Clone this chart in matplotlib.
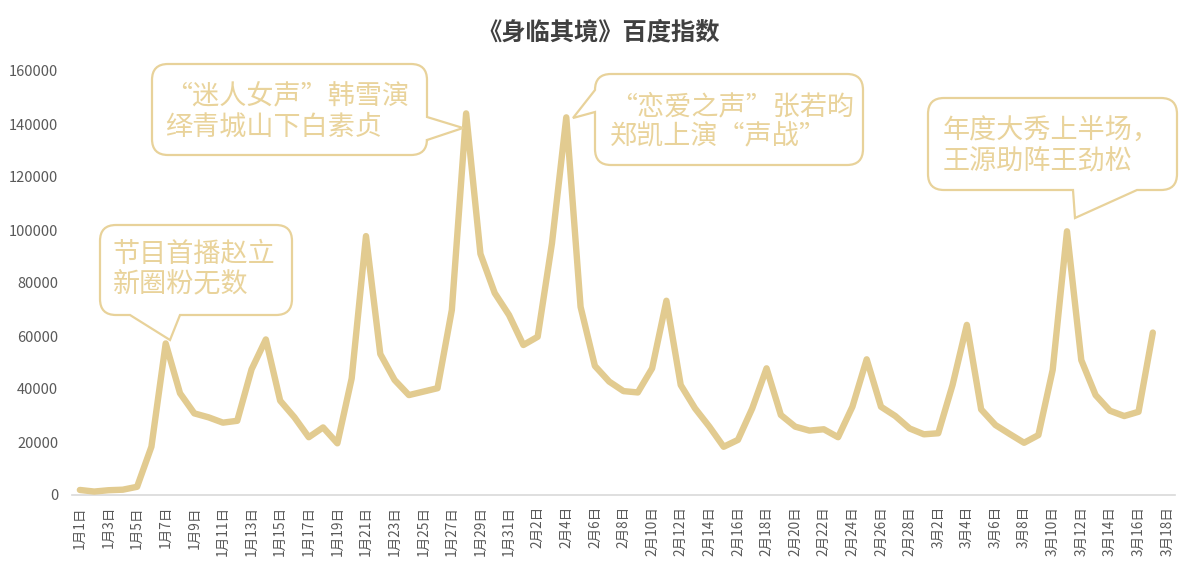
import matplotlib
matplotlib.use("Agg")
import matplotlib.pyplot as plt
from matplotlib.path import Path
from matplotlib.patches import PathPatch
import pandas as pd

plt.rcParams['font.family'] = ['Noto Sans CJK SC', 'DejaVu Sans']

title = "《身临其境》百度指数"
dates = pd.date_range("2019-01-01", "2019-03-18")
categories = [f"{d.month}月{d.day}日" for d in dates]

values = [
    # Jan
    1900, 1300, 1800, 2000, 3100, 18200, 57200, 38400, 30800, 29300,
    27300, 28000, 47400, 58700, 35600, 29300, 21800, 25500, 19500, 44000,
    97700, 53200, 43400, 37700, 39000, 40300, 69800, 144000, 91000, 76200, 67900,
    # Feb
    56600, 59700, 95000, 142500, 71000, 48700, 42800, 39200, 38700, 47800,
    73300, 41500, 32700, 25800, 18200, 20800, 32700, 47800, 30200, 25800,
    24300, 24800, 21800, 33300, 51200, 33300, 29800, 25100,
    # Mar
    22900, 23300, 41500, 64200, 32300, 26400, 23000, 19700, 22600, 47200,
    99500, 50900, 37700, 31800, 29800, 31400, 61300,
]

yticks = [0, 20000, 40000, 60000, 80000, 100000, 120000, 140000, 160000]

callout_texts = [
    "节目首播赵立\n新圈粉无数",
    "“迷人女声”韩雪演\n绎青城山下白素贞",
    "“恋爱之声”张若昀\n郑凯上演“声战”",
    "年度大秀上半场，\n王源助阵王劲松",
]

W, H = 1190, 569
LINE = "#E2CB90"
BOX = "#E8D29A"
TXT = "#E9D39B"

fig = plt.figure(figsize=(W / 100, H / 100), dpi=100)
ax = fig.add_axes([72 / W, 1 - 495 / H, (1175 - 72) / W, (495 - 71) / H])

x = list(range(len(values)))
ax.plot(x, values, color=LINE, lw=4.6, solid_joinstyle="round", solid_capstyle="round", zorder=3)

ax.set_xlim(-0.55, len(categories) - 0.45)
ax.set_ylim(0, 160000)
ax.set_yticks(yticks)
ax.set_yticklabels([str(v) for v in yticks], fontsize=10.5, color="#595959")
tick_idx = list(range(0, len(categories), 2))
ax.set_xticks(tick_idx)
ax.set_xticklabels([categories[i] for i in tick_idx], rotation=90, fontsize=9.8, color="#595959")
ax.tick_params(axis="both", length=0)
ax.tick_params(axis="x", pad=8)
ax.tick_params(axis="y", pad=10)
for s in ["top", "right", "left"]:
    ax.spines[s].set_visible(False)
ax.spines["bottom"].set_color("#D9D9D9")
ax.spines["bottom"].set_linewidth(1.2)

fig.text(599 / W, 1 - 33 / H, title, ha="center", va="center", fontsize=17.5,
         fontweight="bold", color="#404040")


def to_fig(px, py):
    return (px / W, 1 - py / H)


def callout(x0, y0, x1, y1, r, side, ptr):
    M, L, C = Path.MOVETO, Path.LINETO, Path.CURVE3
    verts, codes = [], []

    def add(p, c):
        verts.append(to_fig(*p))
        codes.append(c)

    add((x0 + r, y0), M)
    add((x1 - r, y0), L)
    add((x1, y0), C); add((x1, y0 + r), C)
    if side == "right":
        for p in ptr:
            add(p, L)
    add((x1, y1 - r), L)
    add((x1, y1), C); add((x1 - r, y1), C)
    if side == "bottom":
        for p in ptr:
            add(p, L)
    add((x0 + r, y1), L)
    add((x0, y1), C); add((x0, y1 - r), C)
    if side == "left":
        for p in ptr:
            add(p, L)
    add((x0, y0 + r), L)
    add((x0, y0), C); add((x0 + r, y0), C)
    patch = PathPatch(Path(verts, codes), transform=fig.transFigure, facecolor="white",
                      edgecolor=BOX, lw=1.6, zorder=5)
    fig.add_artist(patch)


callout(100, 225, 292, 315, 16, "bottom", [(180, 315), (170, 340), (130, 315)])
callout(152, 64, 427, 155, 16, "right", [(427, 117), (463, 128), (427, 140)])
callout(595, 74, 863, 165, 16, "left", [(595, 112), (573, 118), (595, 90)])
callout(928, 98, 1177, 190, 16, "bottom", [(1137, 190), (1075, 218), (1073, 190)])

text_pos = [(113, 270), (165, 112), (610, 122), (943, 146)]
for (tx, ty), t in zip(text_pos, callout_texts):
    fig.text(tx / W, 1 - ty / H, t, ha="left", va="center", fontsize=19.5, color=TXT,
             linespacing=1.15, zorder=6)

fig.savefig("out.png", dpi=100, facecolor="white")
